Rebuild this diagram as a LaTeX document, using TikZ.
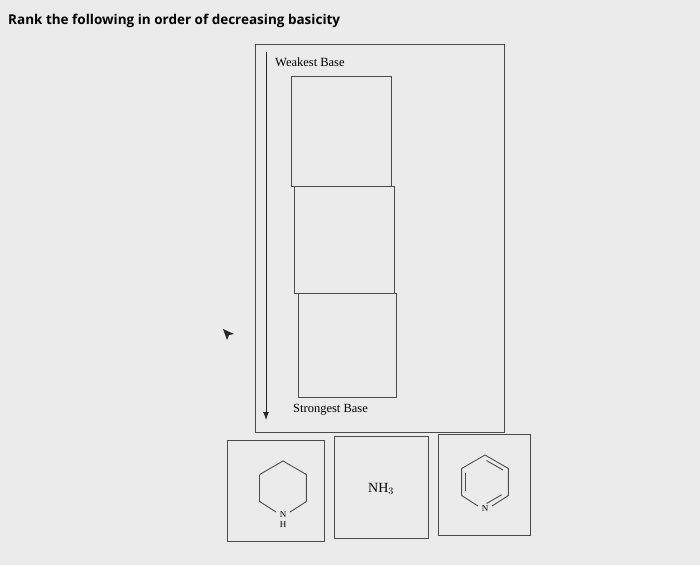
\documentclass[tikz,border=0pt]{standalone}
\usepackage{fontspec}
\setmainfont{Liberation Serif}
\setsansfont{Open Sans}
\usetikzlibrary{arrows.meta,calc,positioning}
\begin{document}
\begin{tikzpicture}[x=1pt,y=-1pt,
  frame/.style={draw=black!70,line width=0.8pt},
  bond/.style={draw=black!70,line width=0.9pt},
  lbl/.style={font=\fontsize{12.5}{14}\selectfont,inner sep=0pt,anchor=west}]
\fill[black!8] (0,0) rectangle (700,565);
\useasboundingbox (0,0) rectangle (700,565);
\node[anchor=west,inner sep=0pt,font=\sffamily\bfseries\fontsize{13.5}{15}\selectfont] (title) at (8,21) {Rank the following in order of decreasing basicity};
\draw[frame] (255,44) rectangle (504,432);
\coordinate (atop) at (266,52);
\coordinate (abot) at (266,420);
\draw[line width=1pt,black!85,-{Latex[length=8pt,width=6pt]}] (atop) -- (abot);
\node[lbl] (weak) at (275,62) {Weakest Base};
\node[lbl] (strong) at (293,410) {Strongest Base};
\draw[frame] (291,76) rectangle (391,186);
\draw[frame] (294,186) rectangle (394,293);
\draw[frame] (298,293) rectangle (396,397);
\draw[frame] (227,440) rectangle (324,541);
\draw[frame] (334,436) rectangle (428,538);
\draw[frame] (438,434) rectangle (530,535);
% piperidine
\begin{scope}[shift={(283,488)}]
\draw[bond] (210:27) -- (-90:27) -- (-30:27) -- (30:27);
\draw[bond] (210:27) -- (150:27);
\draw[bond] (30:27) -- ($(90:27)+(7,-3)$);
\draw[bond] (150:27) -- ($(90:27)+(-7,-3)$);
\node[inner sep=0pt,font=\fontsize{9}{10}\selectfont] (n1) at (90:27) {N};
\node[inner sep=0pt,font=\fontsize{9}{10}\selectfont,below=3pt of n1] (h1) {H};
\end{scope}
% ammonia
\node[font=\fontsize{14}{16}\selectfont] (nh3) at (381,489) {NH$_3$};
% pyridine
\begin{scope}[shift={(485,482)}]
\draw[bond] (-90:27) -- (-30:27) -- (30:27) -- ($(90:27)+(7,-3)$);
\draw[bond] (-90:27) -- (210:27) -- (150:27) -- ($(90:27)+(-7,-3)$);
\draw[bond] ($(-90:27)!0.15!(-30:27)+(-60:-4)$) -- ($(-90:27)!0.85!(-30:27)+(-60:-4)$);
\draw[bond] ($(210:27)!0.15!(150:27)+(4,0)$) -- ($(210:27)!0.85!(150:27)+(4,0)$);
\draw[bond] ($(30:27)!0.2!(90:27)+(-120:4)$) -- ($(30:27)!0.85!(90:27)+(-120:4)$);
\node[inner sep=0pt,font=\fontsize{9}{10}\selectfont] (n2) at (90:27) {N};
\end{scope}
% cursor
\fill[black!85] (223,329) -- (234,334) -- (229,335) -- (227,340) -- cycle;
\end{tikzpicture}
\end{document}
